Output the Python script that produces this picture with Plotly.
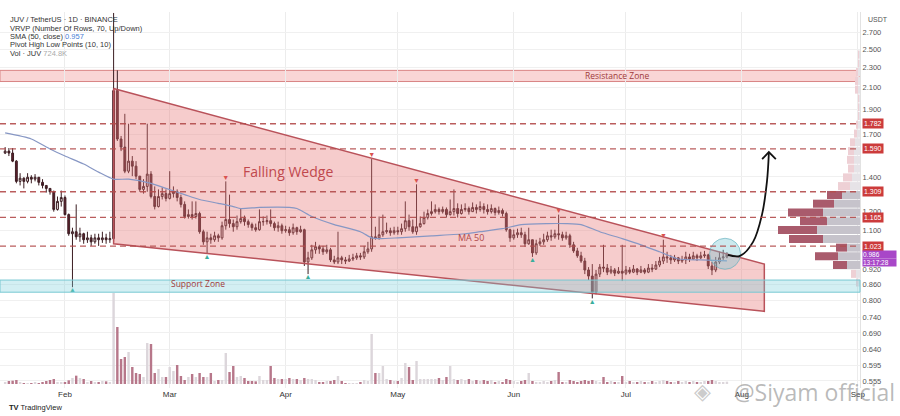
import numpy as np
import pandas as pd
import plotly.graph_objects as go

# JUV / USDT daily candles, 16 Jan - 28 Jul 2025
first_open = 1.560
close = [1.574, 1.560, 1.504, 1.372, 1.392, 1.372, 1.398, 1.386, 1.398, 1.366, 1.347, 1.329, 1.309, 1.208, 1.253, 1.275,
         1.180, 1.082, 1.092, 1.067, 1.082, 1.053, 1.062, 1.043, 1.062, 1.053, 1.062, 1.053, 1.058,
         2.071, 1.663, 1.603, 1.437, 1.504, 1.470, 1.405, 1.323, 1.341, 1.418, 1.281, 1.224, 1.281, 1.298, 1.270,
         1.298, 1.309, 1.275, 1.236, 1.170, 1.180, 1.170, 1.186, 1.092, 1.043, 1.062, 1.053, 1.072, 1.062, 1.122, 1.154,
         1.133, 1.117, 1.143, 1.159, 1.143, 1.128, 1.112, 1.102, 1.143, 1.143, 1.148, 1.133, 1.112, 1.122, 1.097,
         1.102, 1.087, 1.112, 1.092, 1.102, 0.952, 0.970, 1.006, 1.020, 1.010, 0.997, 1.006, 0.961, 0.952, 0.970,
         0.961, 0.956, 0.965, 0.970, 0.979, 0.974, 0.997, 1.010, 1.067, 1.062, 1.077, 1.092, 1.097, 1.087, 1.097,
         1.092, 1.107, 1.148, 1.117, 1.092, 1.117, 1.133, 1.164, 1.186, 1.196, 1.208, 1.196, 1.208, 1.180, 1.196, 1.213,
         1.186, 1.208, 1.213, 1.196, 1.219, 1.208, 1.224, 1.208, 1.196, 1.213, 1.191, 1.202, 1.186, 1.102, 1.062,
         1.077, 1.087, 1.077, 1.034, 1.053, 0.992, 1.034, 1.043, 1.053, 1.072, 1.067, 1.082, 1.077, 1.062, 1.072,
         1.029, 1.001, 0.979, 0.956, 0.918, 0.893, 0.830, 0.901, 0.930, 0.926, 0.909, 0.918, 0.905, 0.913, 0.905,
         0.918, 0.909, 0.922, 0.909, 0.918, 0.909, 0.926, 0.922, 0.939, 0.956, 0.974, 0.970, 0.961, 0.970, 0.956,
         0.961, 0.974, 0.965, 0.979, 0.970, 0.979, 0.983, 0.935, 0.918, 0.952, 0.970, 0.974, 0.986]
high = [1.603, 1.596, 1.596, 1.511, 1.424, 1.398, 1.424, 1.411, 1.418, 1.398, 1.386, 1.347, 1.329, 1.316, 1.281, 1.316,
        1.287, 1.186, 1.112, 1.236, 1.112, 1.087, 1.092, 1.077, 1.082, 1.082, 1.092, 1.082, 1.092,
        2.945, 2.270, 1.686, 1.864, 1.782, 1.539, 1.504, 1.405, 1.386, 1.782, 1.437, 1.341, 1.323, 1.335, 1.323,
        1.437, 1.341, 1.323, 1.292, 1.253, 1.208, 1.253, 1.253, 1.196, 1.102, 1.092, 1.082, 1.092, 1.082, 1.143, 1.372,
        1.292, 1.154, 1.175, 1.213, 1.175, 1.154, 1.138, 1.133, 1.208, 1.170, 1.175, 1.208, 1.143, 1.143, 1.133,
        1.122, 1.117, 1.133, 1.117, 1.122, 1.107, 0.997, 1.029, 1.043, 1.029, 1.024, 1.029, 1.015, 0.979, 1.092,
        0.979, 0.974, 0.983, 0.988, 0.992, 0.992, 1.024, 1.043, 1.518, 1.117, 1.170, 1.180, 1.138, 1.112, 1.117,
        1.117, 1.133, 1.253, 1.180, 1.154, 1.354, 1.170, 1.196, 1.208, 1.253, 1.236, 1.219, 1.224, 1.219, 1.264, 1.323,
        1.242, 1.236, 1.242, 1.224, 1.247, 1.236, 1.253, 1.242, 1.236, 1.236, 1.219, 1.224, 1.213, 1.196, 1.107,
        1.102, 1.107, 1.112, 1.092, 1.112, 1.053, 1.053, 1.062, 1.082, 1.092, 1.102, 1.102, 1.180, 1.092, 1.092,
        1.082, 1.043, 1.015, 0.997, 0.970, 0.930, 0.943, 0.918, 0.943, 1.029, 0.943, 0.935, 0.926, 0.930, 1.029,
        0.935, 0.930, 0.939, 0.926, 0.935, 0.926, 0.943, 0.943, 0.956, 0.974, 1.053, 0.997, 0.983, 0.983, 0.974,
        0.979, 0.997, 0.988, 0.997, 0.988, 0.997, 1.001, 0.988, 0.952, 0.974, 0.997, 1.006, 0.995]
low = [1.553, 1.539, 1.497, 1.360, 1.347, 1.329, 1.360, 1.360, 1.372, 1.347, 1.329, 1.304, 1.292, 1.196, 1.202, 1.224,
       1.175, 1.072, 0.849, 1.053, 1.043, 1.034, 1.038, 1.024, 1.034, 1.024, 1.038, 1.034, 1.038,
       1.043, 1.648, 1.574, 1.424, 1.424, 1.405, 1.386, 1.309, 1.298, 1.309, 1.270, 1.208, 1.219, 1.264, 1.253,
       1.264, 1.275, 1.253, 1.219, 1.159, 1.159, 1.154, 1.159, 1.082, 1.029, 0.988, 1.034, 1.043, 1.043, 1.053, 1.102,
       1.112, 1.092, 1.102, 1.133, 1.122, 1.112, 1.097, 1.092, 1.097, 1.122, 1.128, 1.117, 1.097, 1.092, 1.082,
       1.087, 1.072, 1.077, 1.077, 1.087, 0.935, 0.901, 0.961, 0.988, 0.988, 0.983, 0.988, 0.952, 0.943, 0.943,
       0.943, 0.943, 0.952, 0.956, 0.961, 0.961, 0.965, 0.988, 0.997, 1.053, 1.053, 1.067, 1.082, 1.072, 1.077,
       1.077, 1.077, 1.092, 1.097, 1.082, 1.077, 1.112, 1.128, 1.154, 1.175, 1.186, 1.180, 1.186, 1.164, 1.175, 1.175,
       1.164, 1.180, 1.196, 1.180, 1.196, 1.186, 1.196, 1.186, 1.180, 1.186, 1.175, 1.180, 1.170, 1.092, 1.043,
       1.053, 1.062, 1.062, 1.020, 1.029, 0.974, 0.983, 1.024, 1.029, 1.043, 1.048, 1.058, 1.053, 1.048, 1.053,
       1.015, 0.992, 0.970, 0.948, 0.901, 0.877, 0.807, 0.822, 0.889, 0.909, 0.897, 0.901, 0.893, 0.901, 0.873,
       0.897, 0.901, 0.905, 0.897, 0.905, 0.901, 0.905, 0.909, 0.918, 0.930, 0.943, 0.948, 0.943, 0.952, 0.943,
       0.948, 0.943, 0.952, 0.961, 0.956, 0.965, 0.970, 0.922, 0.897, 0.909, 0.943, 0.961, 0.968]
# daily volume, millions of JUV
volume = [0.6, 0.9, 1.0, 1.2, 0.4, 0.3, 0.3, 0.3, 0.4, 0.3, 0.6, 0.9, 1.2, 1.5, 0.5, 0.4,
          0.6, 1.1, 1.8, 2.5, 1.8, 1.5, 0.6, 0.9, 0.5, 0.6, 0.9, 0.8, 0.6,
          27.3, 17.1, 7.5, 8.1, 9.6, 5.1, 3.3, 3.0, 2.1, 12.3, 12.0, 3.3, 4.5, 2.1, 2.1,
          5.1, 3.9, 5.7, 2.4, 1.2, 2.1, 3.0, 2.1, 3.3, 2.1, 2.1, 3.3, 0.9, 1.2, 1.2, 9.3,
          3.6, 5.4, 2.1, 2.4, 1.8, 0.9, 0.9, 0.8, 2.4, 1.2, 1.2, 5.4, 1.8, 1.5, 1.5,
          1.5, 1.8, 1.5, 1.5, 1.2, 1.8, 1.5, 1.5, 1.2, 0.6, 0.6, 0.9, 0.9, 1.2, 2.4,
          0.9, 0.3, 0.3, 0.3, 0.3, 0.6, 1.2, 0.9, 15.0, 3.3, 3.3, 5.4, 1.5, 1.2, 0.9,
          0.9, 1.8, 6.3, 5.1, 1.2, 6.9, 1.5, 1.5, 1.5, 1.5, 1.5, 1.8, 1.2, 2.1, 5.4, 1.5,
          1.2, 1.5, 1.2, 1.5, 0.9, 1.2, 0.9, 1.2, 0.9, 1.2, 0.6, 0.9, 0.6, 1.5, 1.2,
          0.9, 0.6, 0.9, 1.2, 3.3, 0.9, 0.6, 0.6, 0.9, 0.6, 0.9, 1.2, 3.6, 0.6, 0.6,
          1.2, 0.9, 0.6, 0.9, 1.2, 0.9, 1.2, 0.9, 0.6, 2.1, 0.6, 0.9, 0.6, 0.6, 2.4,
          0.6, 0.9, 0.6, 0.6, 0.9, 0.6, 0.6, 0.9, 0.6, 0.9, 1.2, 0.9, 0.6, 0.6, 0.9,
          0.6, 0.9, 0.6, 0.9, 0.6, 0.6, 0.9, 0.9, 1.2, 0.9, 0.6, 0.6, 0.7]

dates = pd.date_range("2025-01-16", periods=len(close), freq="D")
opens = [first_open] + close[:-1]  # daily candles open at the prior close

# SMA 50
ma_dates = ["2025-01-16", "2025-01-23", "2025-01-28", "2025-02-01", "2025-02-06", "2025-02-10", "2025-02-14",
            "2025-02-18", "2025-02-24", "2025-02-28", "2025-03-05", "2025-03-09", "2025-03-14", "2025-03-18",
            "2025-03-20", "2025-03-25", "2025-04-02", "2025-04-04", "2025-04-08", "2025-04-14", "2025-04-21",
            "2025-04-24", "2025-04-26", "2025-05-01", "2025-05-10", "2025-05-19", "2025-05-23", "2025-05-29",
            "2025-06-03", "2025-06-10", "2025-06-15", "2025-06-19", "2025-06-24", "2025-06-30", "2025-07-05",
            "2025-07-10", "2025-07-15", "2025-07-21", "2025-07-28"]
ma_vals = [1.709, 1.663, 1.589, 1.539, 1.484, 1.431, 1.386, 1.386, 1.360, 1.329, 1.292, 1.264, 1.242, 1.224,
           1.213, 1.219, 1.219, 1.213, 1.170, 1.128, 1.092, 1.062, 1.058, 1.062, 1.072, 1.082, 1.092, 1.107,
           1.128, 1.133, 1.133, 1.128, 1.092, 1.058, 1.029, 0.997, 0.965, 0.961, 0.957]

# pivot points
ph_dates = ["2025-03-16", "2025-04-24", "2025-05-06", "2025-06-13", "2025-07-11"]
ph_vals = [1.372, 1.518, 1.354, 1.180, 1.053]
pl_dates = ["2025-02-03", "2025-03-11", "2025-04-07", "2025-06-06", "2025-06-22"]
pl_vals = [0.849, 0.988, 0.901, 0.974, 0.807]

# drawings
levels = [1.782, 1.590, 1.309, 1.165, 1.023]
resistance = [2.158, 2.270]
support = [0.830, 0.877]
wedge_dates = ["2025-02-14", "2025-08-07", "2025-08-07", "2025-02-14", "2025-02-14"]
wedge_prices = [2.090, 0.943, 0.761, 1.034, 2.090]
arrow_dates = ["2025-07-28 06:00", "2025-07-31 12:00", "2025-08-04", "2025-08-06 09:00",
               "2025-08-07 17:00", "2025-08-08 05:00"]
arrow_prices = [0.983, 0.979, 1.043, 1.180, 1.372, 1.560]
head_dates = ["2025-08-06 10:00", "2025-08-08 05:00", "2025-08-10 02:00"]
head_prices = [1.518, 1.567, 1.518]
circle_date = "2025-07-27 12:00"
circle_price = 0.988
last_price = 0.986

# visible range volume profile (rows, millions)
vp_price = [2.438, 2.343, 2.252, 2.164, 2.080, 1.998, 1.920, 1.846, 1.774, 1.704, 1.638, 1.574, 1.513, 1.454,
            1.397, 1.343, 1.290, 1.240, 1.191, 1.145, 1.100, 1.057, 1.016, 0.977, 0.939, 0.902, 0.867]
vp_up = [0.5, 0.5, 1, 1, 1, 0.5, 0.5, 0.5, 1, 1.5, 2.5, 3, 3, 3, 4, 5, 9, 13, 18.5, 16.5, 21.5, 18.5, 6.5, 11,
         6.5, 2, 1]
vp_down = [0.5, 0.5, 1, 1.5, 1.5, 0.5, 0.5, 0.5, 1, 1.5, 2.5, 3, 3.5, 3, 4.5, 6, 7.5, 10.5, 17.5, 13.5, 19.5,
           17, 5.5, 11.5, 7, 2.5, 1]
vp_in_value_area = [False] * 16 + [True] * 9 + [False] * 2

tick_vals = [2.7, 2.5, 2.3, 2.1, 1.9, 1.7, 1.4, 1.2, 1.1, 0.92, 0.86, 0.8, 0.74, 0.69, 0.64, 0.595, 0.555]
month_ticks = ["2025-02-01", "2025-03-01", "2025-04-01", "2025-05-01", "2025-06-01", "2025-07-01",
               "2025-08-01", "2025-09-01"]
month_names = ["Feb", "Mar", "Apr", "May", "Jun", "Jul", "Aug", "Sep"]

y_range = [np.log10(0.5375), np.log10(2.958)]
font = "Liberation Sans, Arial, sans-serif"

fig = go.Figure()

# falling wedge
fig.add_trace(go.Scatter(x=wedge_dates, y=wedge_prices, mode="lines", fill="toself",
                         fillcolor="rgba(232,120,120,0.38)", line=dict(color="#b9525a", width=1.5),
                         hoverinfo="skip"))

# volume
vol_colors = ["#dcd6db" if c >= o else "#b7778a" for o, c in zip(opens, close)]
fig.add_trace(go.Bar(x=dates, y=volume, yaxis="y2", marker=dict(color=vol_colors, line=dict(width=0)),
                     width=0.65 * 86400000, hoverinfo="skip"))

# volume profile
up_col = ["#c6c3cb" if v else "#e6e3e7" for v in vp_in_value_area]
dn_col = ["#a95b6c" if v else "#eed0d5" for v in vp_in_value_area]
vp_y = np.log10(vp_price)
fig.add_trace(go.Bar(y=vp_y, x=vp_up, orientation="h", xaxis="x2", yaxis="y3", width=0.0158,
                     marker=dict(color=up_col, line=dict(width=0)), hoverinfo="skip"))
fig.add_trace(go.Bar(y=vp_y, x=vp_down, base=vp_up, orientation="h", xaxis="x2", yaxis="y3", width=0.0158,
                     marker=dict(color=dn_col, line=dict(width=0)), hoverinfo="skip"))

# candles
fig.add_trace(go.Candlestick(x=dates, open=opens, high=high, low=low, close=close,
                             increasing=dict(line=dict(color="#3b1d22", width=1), fillcolor="#f4ecee"),
                             decreasing=dict(line=dict(color="#3b1d22", width=1), fillcolor="#5e1f2d"),
                             whiskerwidth=0, hoverinfo="skip"))

# SMA 50
fig.add_trace(go.Scatter(x=ma_dates, y=ma_vals, mode="lines", line=dict(color="#8797c4", width=1.2,
                                                                        shape="spline", smoothing=0.6),
                         hoverinfo="skip"))

# pivots
fig.add_trace(go.Scatter(x=ph_dates, y=ph_vals, mode="text", text=["▼"] * len(ph_dates),
                         textposition="top center", textfont=dict(color="#d9534f", size=7)))
fig.add_trace(go.Scatter(x=pl_dates, y=pl_vals, mode="text", text=["▲"] * len(pl_dates),
                         textposition="bottom center", textfont=dict(color="#3aae9c", size=7)))

# breakout circle and arrow
fig.add_trace(go.Scatter(x=[circle_date], y=[circle_price], mode="markers",
                         marker=dict(size=31, color="rgba(120,198,210,0.38)",
                                     line=dict(color="rgba(90,170,185,0.6)", width=1)), hoverinfo="skip"))
fig.add_trace(go.Scatter(x=arrow_dates, y=arrow_prices, mode="lines",
                         line=dict(color="#111111", width=1.8, shape="spline", smoothing=1.0), hoverinfo="skip"))
fig.add_trace(go.Scatter(x=head_dates, y=head_prices, mode="lines",
                         line=dict(color="#111111", width=1.8), hoverinfo="skip"))

shapes = []
shapes.append(dict(type="rect", xref="paper", x0=0, x1=1, yref="y", y0=resistance[0], y1=resistance[1],
                   fillcolor="rgba(238,135,135,0.35)", line=dict(color="#d98585", width=1), layer="below"))
shapes.append(dict(type="rect", xref="paper", x0=0, x1=1, yref="y", y0=support[0], y1=support[1],
                   fillcolor="rgba(120,205,218,0.33)", line=dict(color="#78c8d2", width=1), layer="above"))
for lv in levels:
    shapes.append(dict(type="line", xref="paper", x0=0, x1=1, yref="y", y0=lv, y1=lv,
                       line=dict(color="rgba(178,75,75,0.9)", width=1.3, dash="6px,4px"), layer="above"))

ann = []
legend_lines = ["JUV / TetherUS · 1D · BINANCE",
                "VRVP (Number Of Rows, 70, Up/Down)",
                "SMA (50, close) <span style='color:#4a7fd6'>0.957</span>",
                "Pivot High Low Points (10, 10)",
                "Vol · JUV <span style='color:#aaaaaa'>724.8K</span>"]
for i, t in enumerate(legend_lines):
    ann.append(dict(text=t, xref="paper", yref="paper", x=0.009, y=0.979 - i * 0.0222, xanchor="left",
                    yanchor="middle", showarrow=False, font=dict(size=7.5, color="#333333", family=font)))


def label(text, x, y, size, color, family="Open Sans, sans-serif"):
    return dict(text=text, xref="paper", yref="paper", x=x, y=y, xanchor="center", yanchor="middle",
                showarrow=False, font=dict(size=size, color=color, family=family))


ann.append(label("Falling Wedge", 0.335, 0.577, 14, "#c0484d"))
ann.append(label("MA 50", 0.548, 0.399, 9, "#b04848"))
ann.append(label("Resistance Zone", 0.717, 0.830, 8.5, "#a03a3a"))
ann.append(label("Support Zone", 0.230, 0.277, 8.5, "#a03a3a"))
for lv in levels:
    ann.append(dict(text=f"{lv:.3f}", xref="paper", x=1, xanchor="left", xshift=2, yref="y", y=np.log10(lv),
                    yanchor="middle", showarrow=False, bgcolor="#cc3b3b", borderpad=1,
                    font=dict(size=7, color="white", family=font)))
ann.append(dict(text=f"{last_price:.3f}", xref="paper", x=1, xanchor="left", xshift=2, yref="y",
                y=np.log10(last_price), yanchor="top", yshift=4, showarrow=False, bgcolor="#a847c8",
                borderpad=0, width=33, align="left", font=dict(size=6.5, color="white", family=font)))
ann.append(dict(text="13:17:28", xref="paper", x=1, xanchor="left", xshift=2, yref="y",
                y=np.log10(last_price), yanchor="top", yshift=-4, showarrow=False, bgcolor="#a847c8",
                borderpad=0, width=33, align="left", font=dict(size=6.5, color="white", family=font)))
ann.append(dict(text="USDT", xref="paper", yref="paper", x=1, xanchor="left", xshift=6, y=0.979,
                yanchor="middle", showarrow=False, font=dict(size=7, color="#555555", family=font)))
ann.append(dict(text="<b>TV</b> TradingView", xref="paper", yref="paper", x=0.008, xanchor="left", y=-0.053,
                yanchor="middle", showarrow=False, font=dict(size=7.5, color="#222222", family=font)))
ann.append(label("◈", 0.817, -0.008, 22, "rgba(160,160,160,0.55)", "DejaVu Sans"))
ann.append(dict(text="@Siyam official", xref="paper", yref="paper", x=1.043, xanchor="right", y=-0.011,
                yanchor="middle", showarrow=False,
                font=dict(size=23, color="rgba(140,140,140,0.6)", family="Open Sans, sans-serif")))

fig.update_layout(
    width=900, height=416, margin=dict(l=0, r=40, t=12, b=28),
    paper_bgcolor="white", plot_bgcolor="white", showlegend=False, barmode="overlay",
    shapes=shapes, annotations=ann,
    xaxis=dict(type="date", range=["2025-01-14 15:00", "2025-09-01 14:00"], rangeslider=dict(visible=False),
               tickvals=month_ticks, ticktext=month_names, showgrid=True, gridcolor="#ececec",
               tickfont=dict(size=8, color="#333333", family=font), ticks="", zeroline=False),
    xaxis2=dict(overlaying="x", range=[430, 0], visible=False),
    yaxis=dict(type="log", side="right", range=y_range, tickvals=tick_vals,
               ticktext=[f"{v:.3f}" for v in tick_vals], showgrid=True, gridcolor="#f0f0f0",
               tickfont=dict(size=7.5, color="#555555", family=font), showline=True, linecolor="#e2e2e2",
               zeroline=False),
    yaxis2=dict(overlaying="y", range=[-1.2, 111.6], visible=False),
    yaxis3=dict(overlaying="y", range=y_range, visible=False),
)

fig.write_html("out.html", config={"displayModeBar": False},
               post_script="document.body.style.margin='0px';")
